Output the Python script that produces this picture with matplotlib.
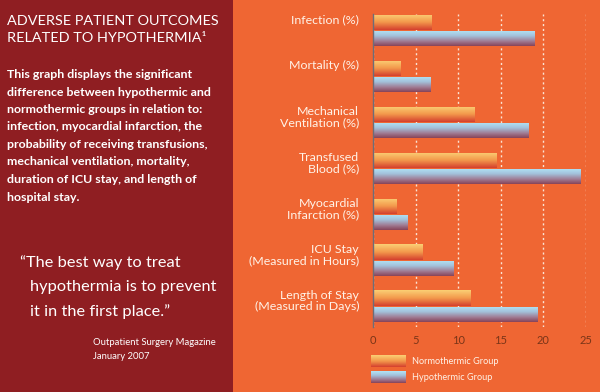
import numpy as np
import matplotlib
matplotlib.use('Agg')
import matplotlib.pyplot as plt
from matplotlib.patches import Rectangle
from matplotlib.colors import LinearSegmentedColormap

plt.rcParams['font.family'] = ['Lato', 'DejaVu Sans']

categories = ['Infection (%)', 'Mortality (%)', 'Mechanical\nVentilation (%)',
              'Transfused\nBlood (%)', 'Myocardial\nInfarction (%)',
              'ICU Stay\n(Measured in Hours)', 'Length of Stay\n(Measured in Days)']
normothermic = [6.9, 3.2, 11.9, 14.5, 2.7, 5.8, 11.5]
hypothermic = [18.9, 6.8, 18.3, 24.4, 4.1, 9.4, 19.3]
series_names = ['Normothermic Group', 'Hypothermic Group']
xticks = [0, 5, 10, 15, 20, 25]

title_lines = ['ADVERSE PATIENT OUTCOMES', 'RELATED TO HYPOTHERMIA\u00b9']
body_lines = ['This graph displays the significant',
              'difference between hypothermic and',
              'normothermic groups in relation to:',
              'infection, myocardial infarction, the',
              'probability of receiving transfusions,',
              'mechanical ventilation, mortality,',
              'duration of ICU stay, and length of',
              'hospital stay.']
quote_lines = ['\u201cThe best way to treat', 'hypothermia is to prevent',
               'it in the first place.\u201d']
source_lines = ['Outpatient Surgery Magazine', 'January 2007']

W, H = 600, 392
bg = '#ef6633'
panel = '#8f1e22'
label_col = '#fff3e8'

norm_cmap = LinearSegmentedColormap.from_list('n', ['#fbcf74', '#f3994c', '#d4402e'])
hypo_cmap = LinearSegmentedColormap.from_list(
    'h', [(0, '#b2e4f6'), (0.35, '#a3c2dc'), (0.7, '#a07c94'), (1, '#88445a')])

fig = plt.figure(figsize=(W / 100, H / 100), dpi=100, facecolor=bg)
fig.patches.append(Rectangle((0, 0), 233 / W, 1, transform=fig.transFigure,
                             facecolor=panel, edgecolor='none', zorder=0))


def fx(px):
    return px / W


def fy(py):
    return 1 - py / H


# left panel text
for i, t in enumerate(title_lines):
    fig.text(fx(7), fy(25 + 17 * i), t, color='white', fontsize=10.4,
             va='baseline', ha='left')
for i, t in enumerate(body_lines):
    fig.text(fx(7), fy(78 + 17.5 * i), t, color='white', fontsize=8.9,
             fontweight='bold', va='baseline', ha='left')
for i, t in enumerate(quote_lines):
    fig.text(fx(20 if i == 0 else 30), fy(267 + 24.5 * i), t, color='white',
             fontsize=11.8, va='baseline', ha='left')
for i, t in enumerate(source_lines):
    fig.text(fx(93), fy(345 + 14 * i), t, color='white', fontsize=6.8,
             va='baseline', ha='left')

# chart
ax = fig.add_axes([fx(373), fy(327), (586 - 373) / W, (327 - 14) / H])
ax.set_facecolor('none')
y = np.arange(len(categories))
h = 0.33
off = 0.18
bn = ax.barh(y - off, normothermic, height=h, color='#f3994c')
bh = ax.barh(y + off, hypothermic, height=h, color='#a8a4bc')
grad = np.linspace(0, 1, 64).reshape(-1, 1)
for bars, cmap in ((bn, norm_cmap), (bh, hypo_cmap)):
    for r in bars:
        x0, y0, w, hh = r.get_x(), r.get_y(), r.get_width(), r.get_height()
        im = ax.imshow(grad, cmap=cmap, aspect='auto', origin='upper',
                       extent=(x0, x0 + w, y0 + hh, y0), zorder=3)
        im.set_clip_path(r)
        r.set_zorder(2)

ax.set_xlim(0, 25)
ax.set_ylim(6.45, -0.36)
ax.set_xticks(xticks)
ax.tick_params(axis='x', length=0, pad=6, labelsize=8, labelcolor='#7a3518')
ax.set_yticks(y - 0.36, categories)
ax.tick_params(axis='y', length=0, pad=10, labelsize=8.9, labelcolor=label_col)
for lbl in ax.get_yticklabels():
    lbl.set_va('top')
    lbl.set_linespacing(1.05)
for s in ['top', 'right', 'bottom']:
    ax.spines[s].set_visible(False)
ax.spines['left'].set_color('#6d6d78')
ax.spines['left'].set_linewidth(1)
ax.spines['left'].set_zorder(5)
ax.xaxis.grid(True, color='#fbe3d3', linestyle=(0, (1.5, 2)), linewidth=1)
ax.set_axisbelow(True)

# legend
lax = fig.add_axes([fx(371), fy(383), (600 - 371) / W, (383 - 355) / H])
lax.axis('off')
for i, (name, cmap) in enumerate(zip(series_names, [norm_cmap, hypo_cmap])):
    top = 16 * i
    lax.imshow(grad, cmap=cmap, aspect='auto', origin='upper',
               extent=(0, 35, top + 12, top))
    lax.text(41, top + 6, name, color=label_col, fontsize=6.6, va='center', ha='left')
lax.set_xlim(0, 229)
lax.set_ylim(28, 0)

fig.savefig('out.png', dpi=100, facecolor=bg)
